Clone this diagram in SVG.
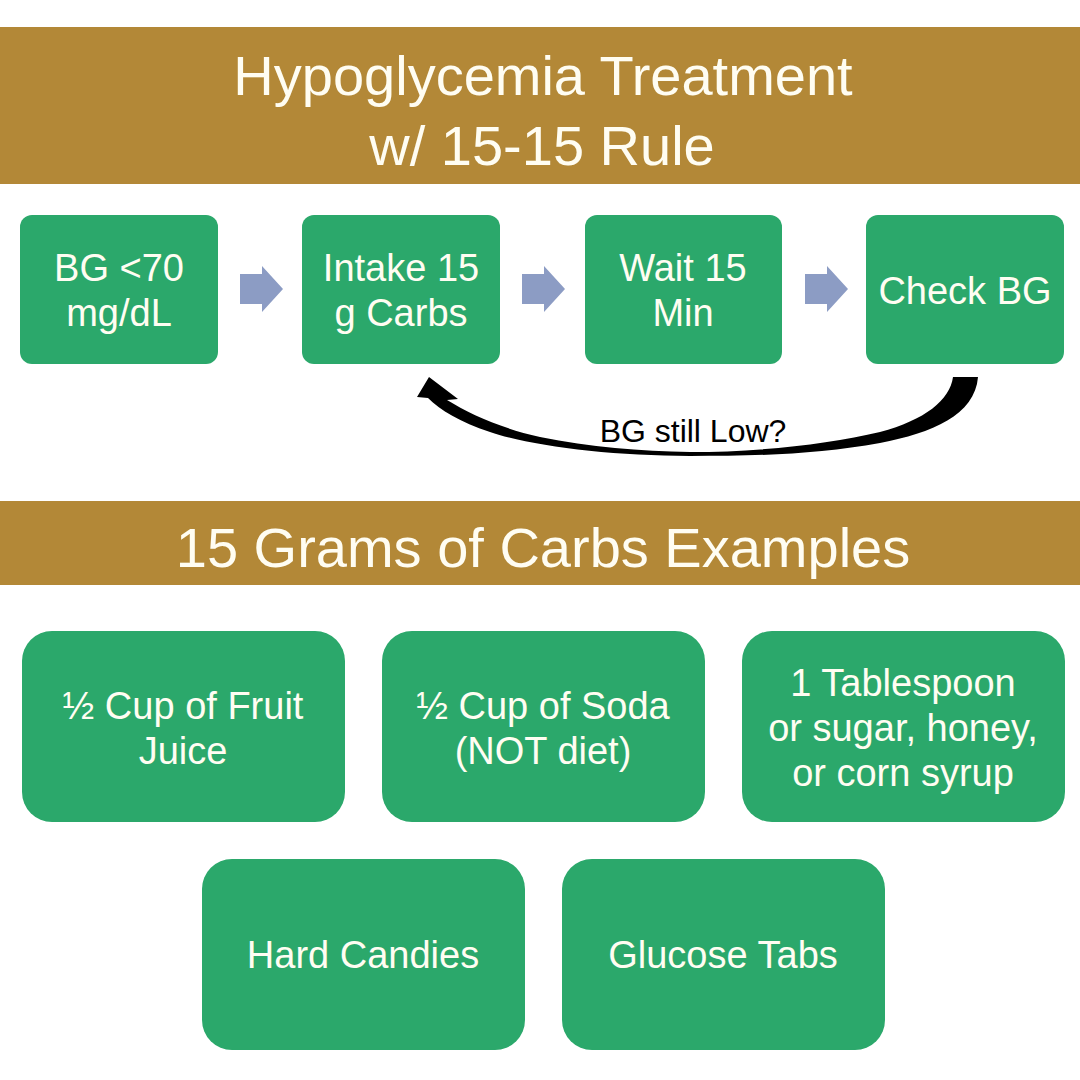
<svg xmlns="http://www.w3.org/2000/svg" width="1080" height="1080" viewBox="0 0 1080 1080">
<style>
.bar{fill:#B38837}
.box{fill:#2BA86B}
.hd{font-family:"Liberation Sans",Arial,sans-serif;font-size:56px;fill:#FFFDF2;text-anchor:middle}
.t1{font-family:"Liberation Sans",Arial,sans-serif;font-size:38px;fill:#FFFDF2;text-anchor:middle}
.t2{font-family:"Liberation Sans",Arial,sans-serif;font-size:38px;fill:#FFFDF2;text-anchor:middle}
.blk{fill:#8C9CC4}
.lbl{font-family:"Liberation Sans",Arial,sans-serif;font-size:32px;fill:#000;text-anchor:middle}
</style>
<defs>
<path id="blockArrow" d="M0 -16 H22 V-24 L43 -1 L22 22 V14 H0 Z"/>
</defs>
<rect width="1080" height="1080" fill="#FFFFFF"/>
<g id="header1">
<rect class="bar" x="0" y="27" width="1080" height="157"/>
<text class="hd" x="543" y="95">Hypoglycemia Treatment</text>
<text class="hd" x="542" y="165">w/ 15-15 Rule</text>
</g>
<g id="header2">
<rect class="bar" x="0" y="501" width="1080" height="84"/>
<text class="hd" x="543" y="567">15 Grams of Carbs Examples</text>
</g>
<g id="connectors">
<use href="#blockArrow" class="blk" x="240" y="290"/>
<use href="#blockArrow" class="blk" x="522" y="290"/>
<use href="#blockArrow" class="blk" x="805" y="290"/>
<path id="loop" fill="#000" d="M978 377 C975 415 932 433 880 443 C820 454 760 456 690 456 C610 456 530 446 490 432 C460 422 440 410 428 398 L417 397 L429 377 L458 399 L447 400 C470 414 500 428 540 437 C590 447 640 451 690 452 C760 452 830 444 880 432 C925 420 950 400 953 377 Z"/>
<text class="lbl" x="693" y="442">BG still Low?</text>
</g>
<g id="node-bg70">
<rect class="box" x="20" y="215" width="198" height="149" rx="12"/>
<text class="t1" x="119" y="281">BG &lt;70</text>
<text class="t1" x="119" y="326">mg/dL</text>
</g>
<g id="node-intake">
<rect class="box" x="302" y="215" width="198" height="149" rx="12"/>
<text class="t1" x="401" y="281">Intake 15</text>
<text class="t1" x="401" y="326">g Carbs</text>
</g>
<g id="node-wait">
<rect class="box" x="585" y="215" width="197" height="149" rx="12"/>
<text class="t1" x="683" y="281">Wait 15</text>
<text class="t1" x="683" y="326">Min</text>
</g>
<g id="node-check">
<rect class="box" x="866" y="215" width="198" height="149" rx="12"/>
<text class="t1" x="965" y="304">Check BG</text>
</g>
<g id="node-juice">
<rect class="box" x="22" y="631" width="323" height="191" rx="30"/>
<text class="t2" x="183" y="719">½ Cup of Fruit</text>
<text class="t2" x="183" y="764">Juice</text>
</g>
<g id="node-soda">
<rect class="box" x="382" y="631" width="323" height="191" rx="30"/>
<text class="t2" x="543" y="719">½ Cup of Soda</text>
<text class="t2" x="543" y="764">(NOT diet)</text>
</g>
<g id="node-sugar">
<rect class="box" x="742" y="631" width="323" height="191" rx="30"/>
<text class="t2" x="903" y="696">1 Tablespoon</text>
<text class="t2" x="903" y="741">or sugar, honey,</text>
<text class="t2" x="903" y="786">or corn syrup</text>
</g>
<g id="node-candies">
<rect class="box" x="202" y="859" width="323" height="191" rx="30"/>
<text class="t2" x="363" y="968">Hard Candies</text>
</g>
<g id="node-glucose">
<rect class="box" x="562" y="859" width="323" height="191" rx="30"/>
<text class="t2" x="723" y="968">Glucose Tabs</text>
</g>
</svg>
